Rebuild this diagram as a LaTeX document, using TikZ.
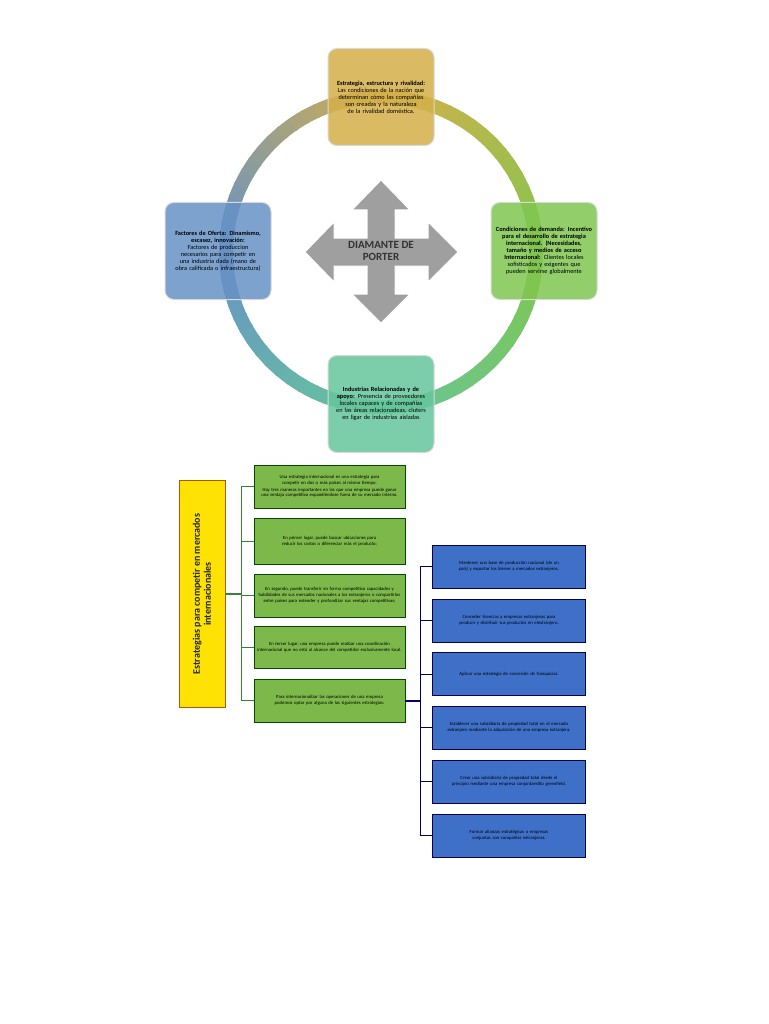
\documentclass[tikz,border=0pt]{standalone}
\usepackage{fontspec}
\setmainfont{Carlito}
\hyphenpenalty=10000 \exhyphenpenalty=10000
\begin{document}
\begin{tikzpicture}[x=1pt,y=-1pt,
 rbox/.style={rounded corners=9pt,minimum width=106pt,minimum height=97pt,text width=98pt,align=center,font=\fontsize{6.3}{7}\selectfont,draw=white!70!gray,line width=1pt,fill opacity=0.85,text opacity=1},
 gbox/.style={draw=green!30!black,fill=gF,minimum width=151pt,text width=149pt,align=center,font=\fontsize{4.7}{5.8}\selectfont,inner sep=1pt},
 bbox/.style={draw=blue!30!black,fill=bF,minimum width=152pt,minimum height=43pt,text width=151pt,align=center,font=\fontsize{4.7}{5.8}\selectfont,inner sep=1pt},
 gl/.style={draw=green!40!black!80,line width=1pt},
 bl/.style={draw=blue!40!black,line width=1pt}]
\definecolor{cG}{HTML}{D4B04A}
\definecolor{cR}{HTML}{80C650}
\definecolor{cB}{HTML}{66C69C}
\definecolor{cL}{HTML}{6792C6}
\definecolor{gF}{HTML}{7DB84A}
\definecolor{bF}{HTML}{3E70C8}
\useasboundingbox (0,0) rectangle (768,1024);
\fill[white] (0,0) rectangle (768,1024);
% ring
\foreach \i in {0,...,17}{
 \pgfmathsetmacro\p{100-\i*100/18}
 \draw[line width=14pt,cG!\p!cR] ([shift={(-90+\i*5:155)}]381,252) arc[start angle=-90+\i*5,end angle=-84+\i*5,radius=155];
 \draw[line width=14pt,cR!\p!cB] ([shift={(\i*5:155)}]381,252) arc[start angle=\i*5,end angle=6+\i*5,radius=155];
 \draw[line width=14pt,cB!\p!cL] ([shift={(90+\i*5:155)}]381,252) arc[start angle=90+\i*5,end angle=96+\i*5,radius=155];
 \draw[line width=14pt,cL!\p!cG] ([shift={(180+\i*5:155)}]381,252) arc[start angle=180+\i*5,end angle=186+\i*5,radius=155];
}
% cross arrow
\fill[gray!75,draw=white,line width=1pt] (381,180) -- (410,210) -- (395,210) -- (395,238) -- (428,238) -- (428,222) -- (458,252) -- (428,282) -- (428,266) -- (395,266) -- (395,294) -- (410,294) -- (381,323) -- (352,294) -- (367,294) -- (367,266) -- (334,266) -- (334,282) -- (305,252) -- (334,222) -- (334,238) -- (367,238) -- (367,210) -- (352,210) -- cycle;
\node[font=\bfseries\fontsize{11}{12}\selectfont,align=center,text=black!80] (dp) at (381,251) {DIAMANTE DE\\PORTER};
\node[rbox,fill=cG] (top) at (381,97) {\textbf{Estrategia, estructura y rivalidad:}\\Las condiciones de la nación que determinan cómo las compañías son creadas y la naturaleza de la rivalidad doméstica.};
\node[rbox,fill=cL] (left) at (218,251) {\textbf{Factores de Oferta: Dinamismo, escasez, innovación:}\\Factores de produccion necesarios para competir en una industria dada (mano de obra calificada o infraestructura)};
\node[rbox,fill=cR] (right) at (544,251) {\textbf{Condiciones de demanda: Incentivo para el desarrollo de estrategia internacional. (Necesidades, tamaño y medios de acceso Internacional:} Clientes locales sofisticados y exigentes que pueden servirse globalmente};
\node[rbox,fill=cB] (bot) at (381,404) {\textbf{Industrias Relacionadas y de apoyo:} Presencia de proveedores locales capaces y de compañías en las áreas relacionadeas, cluters en ligar de industrias aisladas};
% lower part
\node[draw=orange!70!black,fill=yellow!85!orange,minimum width=46pt,minimum height=227pt] (ybox) at (202,594) {};
\node[rotate=90,font=\bfseries\fontsize{10}{11}\selectfont,align=center,text=black!85] at (ybox) {Estrategias para competir en mercados\\internacionales};
\node[gbox,minimum height=43pt] (g1) at (329.5,486.5) {Una estrategia internacional es una estrategia para competir en dos o más países al mismo tiempo.\\[1pt]Hay tres maneras importantes en las que una empresa puede ganar una ventaja competitiva expandiéndose fuera de su mercado interno.};
\node[gbox,minimum height=46pt] (g2) at (329.5,541) {En primer lugar, puede buscar ubicaciones para reducir los costos o diferenciar más el producto;};
\node[gbox,minimum height=43pt] (g3) at (329.5,595.5) {En segundo, puede transferir en forma competitiva capacidades y habilidades de sus mercados nacionales a los extranjeros o compartirlos entre países para extender y profundizar sus ventajas competitivas;};
\node[gbox,minimum height=42pt] (g4) at (329.5,647) {En tercer lugar, una empresa puede realizar una coordinación internacional que no está al alcance del competidor exclusivamente local.};
\node[gbox,minimum height=43pt] (g5) at (329.5,700.5) {Para internacionalizar las operaciones de una empresa podemos optar por alguna de las siguientes estrategias:};
\coordinate (gj) at (241,594);
\draw[gl,line width=2.5pt] (ybox.east) -- (gj);
\draw[gl] (241,486.5) -- (241,700.5);
\foreach \g in {g1,g2,g3,g4,g5} \draw[gl] (241,0 |- \g.west) -- (\g.west);
\node[bbox] (b1) at (509,566.5) {Mantener una base de producción nacional (de un país) y exportar los bienes a mercados extranjeros.};
\node[bbox] (b2) at (509,620.5) {Conceder licencias a empresas extranjeras para producir y distribuir sus productos en elextranjero.};
\node[bbox] (b3) at (509,674) {Aplicar una estrategia de concesión de franquicias.};
\node[bbox] (b4) at (509,727.5) {Establecer una subsidiaria de propiedad total en el mercado extranjero mediante la adquisición de una empresa extranjera.};
\node[bbox] (b5) at (509,781.5) {Crear una subsidiaria de propiedad total desde el principio mediante una empresa conjuntaestilo greenfield.};
\node[bbox] (b6) at (509,835.5) {Formar alianzas estratégicas o empresas conjuntas con compañías extranjeras.};
\draw[bl,line width=2pt] (g5.east) -- (420,700.5);
\draw[bl] (420,566.5) -- (420,835.5);
\foreach \b in {b1,b2,b3,b4,b5,b6} \draw[bl] (420,0 |- \b.west) -- (\b.west);
\end{tikzpicture}
\end{document}
